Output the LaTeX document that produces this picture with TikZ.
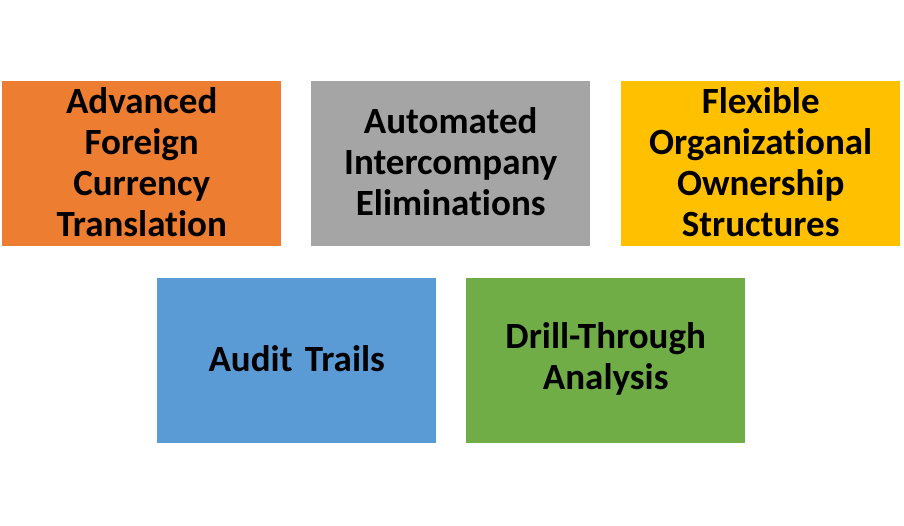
\documentclass[tikz,border=0pt]{standalone}
\usepackage{fontspec}
\setmainfont[Ligatures={NoCommon,NoDiscretionary,NoRare}]{Carlito}
\definecolor{cOrange}{HTML}{ED7D31}
\definecolor{cGray}{HTML}{A5A5A5}
\definecolor{cGold}{HTML}{FFC000}
\definecolor{cBlue}{HTML}{5B9BD5}
\definecolor{cGreen}{HTML}{70AD47}
\begin{document}
\begin{tikzpicture}[x=1pt,y=-1pt,
  featbox/.style={minimum width=279pt,minimum height=165pt,inner sep=0pt,anchor=north west},
  feattext/.style={align=center,text width=275pt,inner sep=0pt,font=\fontsize{37}{41}\selectfont\bfseries}]
\useasboundingbox (0,0) rectangle (904,525);
\fill[white] (0,0) rectangle (904,525);
\node[featbox,fill=cOrange] (a) at (2,81) {};
\node[featbox,fill=cGray] (b) at (311,81) {};
\node[featbox,fill=cGold] (c) at (621,81) {};
\node[featbox,fill=cBlue] (d) at (157,278) {};
\node[featbox,fill=cGreen] (e) at (466,278) {};
\node[feattext] (ta) at ([yshift=2pt]a.center) {Advanced\\Foreign\\Currency\\Translation};
\node[feattext] (tb) at ([yshift=2pt]b.center) {Automated\\Intercompany\\Eliminations};
\node[feattext] (tc) at ([yshift=2pt]c.center) {Flexible\\Organizational\\Ownership\\Structures};
\node[feattext] (td) at ([yshift=2pt]d.center) {Audit Trails};
\node[feattext] (te) at ([yshift=2pt]e.center) {Drill-Through\\Analysis};
\end{tikzpicture}
\end{document}
